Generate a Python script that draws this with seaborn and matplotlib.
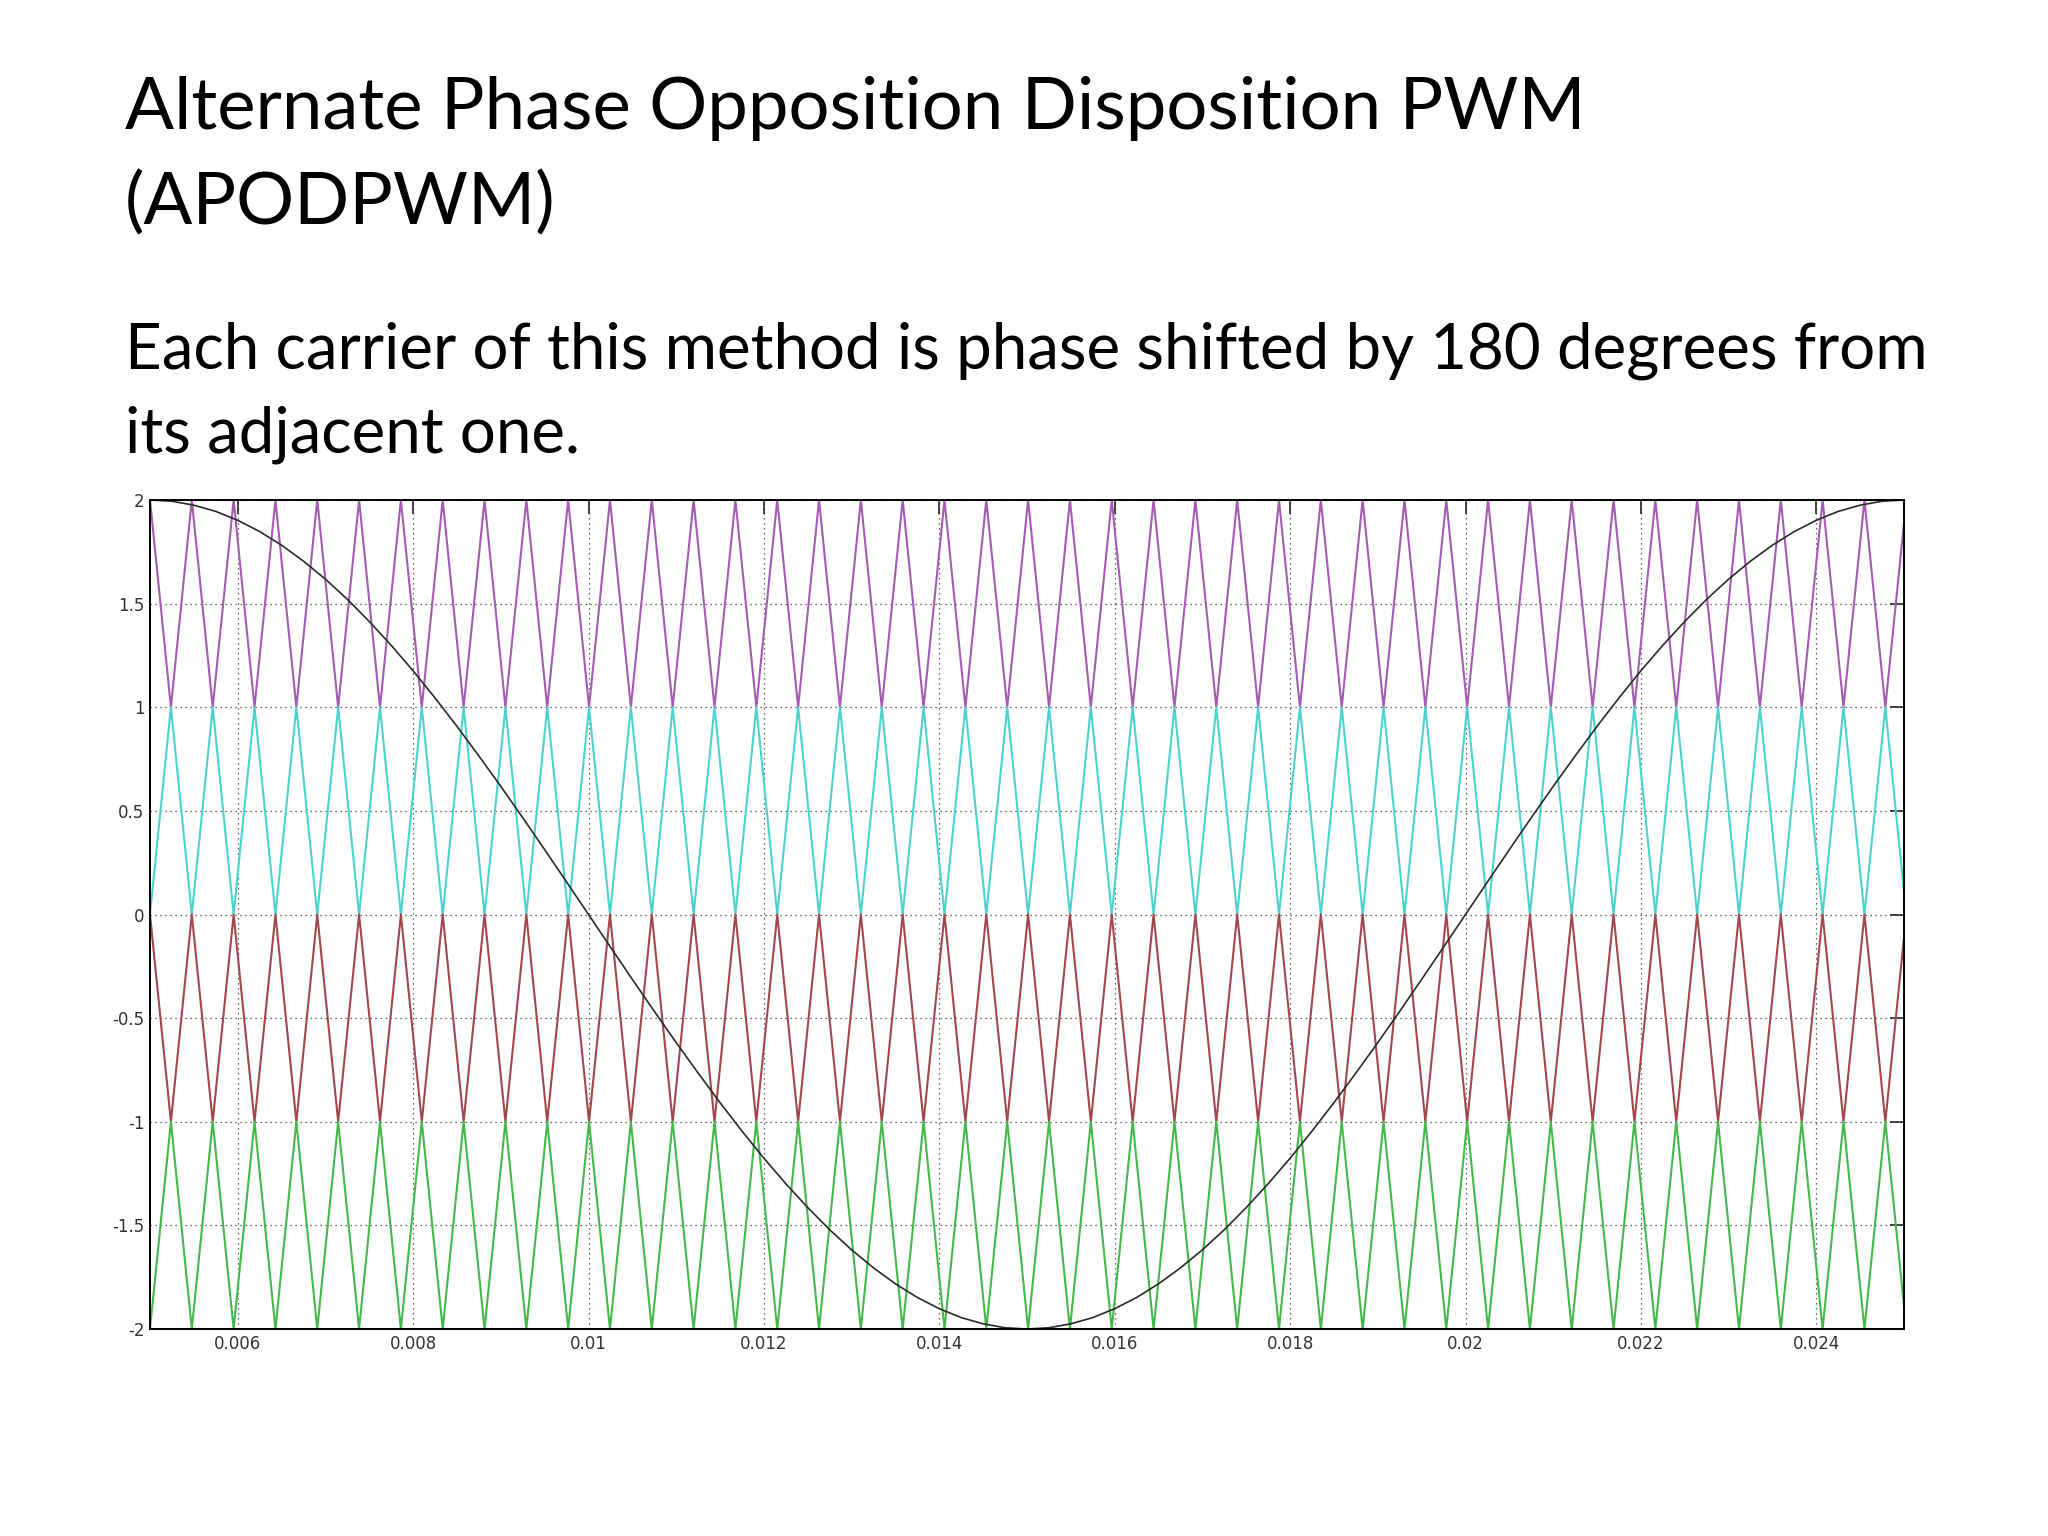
import numpy as np
import pandas as pd
import matplotlib
matplotlib.use('Agg')
import matplotlib.pyplot as plt
import seaborn as sns

# Slide text
title_lines = ['Alternate Phase Opposition Disposition PWM', '(APODPWM)']
body_lines = ['Each carrier of this method is phase shifted by 180 degrees from',
              'its adjacent one.']

# Reference (modulating) wave, every 0.25 ms
sine_t = [0.00500, 0.00525, 0.00550, 0.00575, 0.00600, 0.00625, 0.00650, 0.00675, 0.00700,
          0.00725, 0.00750, 0.00775, 0.00800, 0.00825, 0.00850, 0.00875, 0.00900, 0.00925,
          0.00950, 0.00975, 0.01000, 0.01025, 0.01050, 0.01075, 0.01100, 0.01125, 0.01150,
          0.01175, 0.01200, 0.01225, 0.01250, 0.01275, 0.01300, 0.01325, 0.01350, 0.01375,
          0.01400, 0.01425, 0.01450, 0.01475, 0.01500, 0.01525, 0.01550, 0.01575, 0.01600,
          0.01625, 0.01650, 0.01675, 0.01700, 0.01725, 0.01750, 0.01775, 0.01800, 0.01825,
          0.01850, 0.01875, 0.01900, 0.01925, 0.01950, 0.01975, 0.02000, 0.02025, 0.02050,
          0.02075, 0.02100, 0.02125, 0.02150, 0.02175, 0.02200, 0.02225, 0.02250, 0.02275,
          0.02300, 0.02325, 0.02350, 0.02375, 0.02400, 0.02425, 0.02450, 0.02475, 0.02500]
sine_v = [2.000, 1.994, 1.975, 1.945, 1.902, 1.848, 1.782, 1.705, 1.618,
          1.521, 1.414, 1.299, 1.176, 1.045, 0.908, 0.765, 0.618, 0.467,
          0.313, 0.157, 0.000, -0.157, -0.313, -0.467, -0.618, -0.765, -0.908,
          -1.045, -1.176, -1.299, -1.414, -1.521, -1.618, -1.705, -1.782, -1.848,
          -1.902, -1.945, -1.975, -1.994, -2.000, -1.994, -1.975, -1.945, -1.902,
          -1.848, -1.782, -1.705, -1.618, -1.521, -1.414, -1.299, -1.176, -1.045,
          -0.908, -0.765, -0.618, -0.467, -0.313, -0.157, 0.000, 0.157, 0.313,
          0.467, 0.618, 0.765, 0.908, 1.045, 1.176, 1.299, 1.414, 1.521,
          1.618, 1.705, 1.782, 1.848, 1.902, 1.945, 1.975, 1.994, 2.000]

# Carrier corner times (peaks and troughs)
carrier_t = [0.0050000, 0.0052384, 0.0054768, 0.0057152, 0.0059536, 0.0061920, 0.0064304,
             0.0066688, 0.0069072, 0.0071456, 0.0073840, 0.0076224, 0.0078608, 0.0080992,
             0.0083376, 0.0085760, 0.0088144, 0.0090528, 0.0092912, 0.0095296, 0.0097680,
             0.0100064, 0.0102448, 0.0104832, 0.0107216, 0.0109600, 0.0111984, 0.0114368,
             0.0116752, 0.0119136, 0.0121520, 0.0123904, 0.0126288, 0.0128672, 0.0131056,
             0.0133440, 0.0135824, 0.0138208, 0.0140592, 0.0142976, 0.0145360, 0.0147744,
             0.0150128, 0.0152512, 0.0154896, 0.0157280, 0.0159664, 0.0162048, 0.0164432,
             0.0166816, 0.0169200, 0.0171584, 0.0173968, 0.0176352, 0.0178736, 0.0181120,
             0.0183504, 0.0185888, 0.0188272, 0.0190656, 0.0193040, 0.0195424, 0.0197808,
             0.0200192, 0.0202576, 0.0204960, 0.0207344, 0.0209728, 0.0212112, 0.0214496,
             0.0216880, 0.0219264, 0.0221648, 0.0224032, 0.0226416, 0.0228800, 0.0231184,
             0.0233568, 0.0235952, 0.0238336, 0.0240720, 0.0243104, 0.0245488, 0.0247872,
             0.0250000]

# four level-shifted carriers, adjacent ones in opposition
carrier_top = [2, 1, 0, -1]
carrier_bottom = [1, 0, -1, -2]
carrier_starts_top = [True, False, True, False]
carrier_end = [1.89, 0.11, -0.11, -1.89]
carrier_colors = ['#a35cb2', '#4cd2cc', '#a2474c', '#45b84c']

x_ticks = [0.006, 0.008, 0.010, 0.012, 0.014, 0.016, 0.018, 0.020, 0.022, 0.024]
x_tick_labels = ['0.006', '0.008', '0.01', '0.012', '0.014', '0.016', '0.018', '0.02', '0.022', '0.024']
y_ticks = [-2, -1.5, -1, -0.5, 0, 0.5, 1, 1.5, 2]
y_tick_labels = ['-2', '-1.5', '-1', '-0.5', '0', '0.5', '1', '1.5', '2']

sns.set_style('white')
plt.rcParams['font.family'] = ['Lato', 'DejaVu Sans']

fig = plt.figure(figsize=(20.48, 15.36), dpi=100)
fig.patch.set_facecolor('white')

W, H = 2048, 1536
ax = fig.add_axes([150 / W, 1 - 1329 / H, (1904 - 150) / W, (1329 - 500) / H])

# carriers
for top, bot, start_top, end, col in zip(carrier_top, carrier_bottom, carrier_starts_top,
                                         carrier_end, carrier_colors):
    ys = []
    for k in range(len(carrier_t) - 1):
        at_top = (k % 2 == 0) == start_top
        ys.append(top if at_top else bot)
    ys.append(end)
    df = pd.DataFrame({'t': carrier_t, 'v': ys})
    sns.lineplot(data=df, x='t', y='v', ax=ax, color=col, linewidth=1.5,
                 estimator=None, sort=False)

# reference sine
sine_df = pd.DataFrame({'t': sine_t, 'v': sine_v})
sns.lineplot(data=sine_df, x='t', y='v', ax=ax, color='#2a2a2a', linewidth=1.2,
             estimator=None, sort=False)

ax.set_xlim(0.005, 0.025)
ax.set_ylim(-2, 2)
ax.set_xlabel('')
ax.set_ylabel('')
ax.set_xticks(x_ticks)
ax.set_xticklabels(x_tick_labels)
ax.set_yticks(y_ticks)
ax.set_yticklabels(y_tick_labels)
ax.grid(True, linestyle=(0, (1, 3)), color='#3a3a3a', linewidth=0.9)
ax.tick_params(direction='in', length=10, width=1.2, top=True, right=True,
               labelsize=12, labelcolor='#333333', pad=4)
for lab in ax.get_xticklabels() + ax.get_yticklabels():
    lab.set_family(['Liberation Sans Narrow', 'DejaVu Sans'])
for sp in ax.spines.values():
    sp.set_visible(True)
    sp.set_color('black')
    sp.set_linewidth(1.4)


def fit_text(lines, x, baselines, target_w, size0):
    r = fig.canvas.get_renderer()
    t0 = fig.text(x, 1 - baselines[0] / H, lines[0], fontsize=size0, va='baseline',
                  ha='left', color='black')
    w = t0.get_window_extent(r).width
    size = size0 * target_w / w
    t0.set_fontsize(size)
    for line, b in zip(lines[1:], baselines[1:]):
        fig.text(x, 1 - b / H, line, fontsize=size, va='baseline', ha='left', color='black')


fit_text(title_lines, 125 / W, [129, 224], 1460, 50)
fit_text(body_lines, 125 / W, [368, 453], 1799, 40)

fig.savefig('out.png', dpi=100, facecolor='white')
